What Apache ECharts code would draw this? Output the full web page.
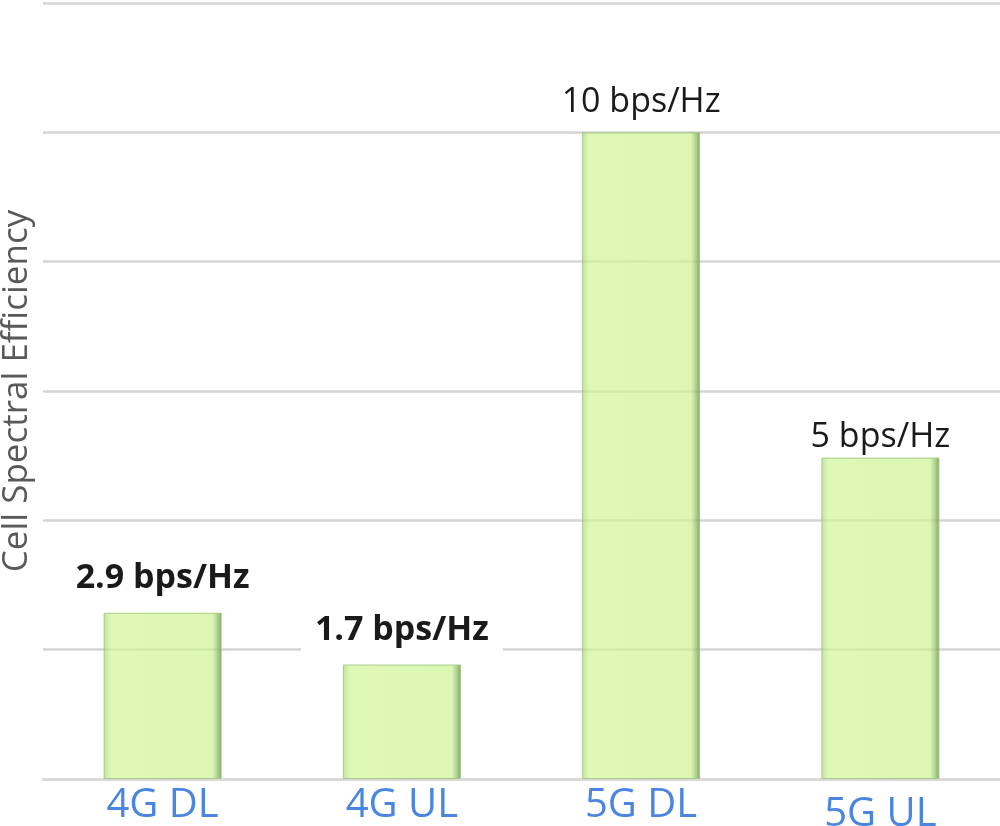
<!DOCTYPE html>
<html>
<head>
<meta charset="utf-8">
<script src="https://cdn.jsdelivr.net/npm/echarts@6/dist/echarts.min.js"></script>
<style>
html,body{margin:0;padding:0;background:#fff;}
#chart{width:1000px;height:826px;}
</style>
</head>
<body>
<div id="chart"></div>
<script>
var categories = ['4G DL', '4G UL', '5G DL', '5G UL'];
var barHeights = [2.57, 1.77, 10, 4.97];
var valueLabels = ['2.9 bps/Hz', '1.7 bps/Hz', '10 bps/Hz', '5 bps/Hz'];
var labelBold = [true, true, false, false];

// label styling (not data)
var labelGap = [17, 5, 13, 3];

var chart = echarts.init(document.getElementById('chart'));

var barColor = new echarts.graphic.LinearGradient(0, 0, 1, 0, [
  {offset: 0, color: 'rgba(170,215,120,0.7)'},
  {offset: 0.06, color: 'rgba(208,245,152,0.7)'},
  {offset: 0.92, color: 'rgba(205,244,148,0.7)'},
  {offset: 0.97, color: 'rgba(150,190,110,0.8)'},
  {offset: 1, color: 'rgba(110,150,80,0.9)'}
]);

var labelData = barHeights.map(function (v, i) {
  var lbl = {
    show: true,
    position: 'top',
    distance: labelGap[i],
    formatter: valueLabels[i],
    fontFamily: 'Open Sans',
    fontSize: 34,
    fontWeight: labelBold[i] ? 'bold' : 'normal',
    color: '#1a1a1a'
  };
  if (i === 1) {
    lbl.backgroundColor = '#ffffff';
    lbl.padding = [2, 14, 12, 14];
  }
  return {value: v, label: lbl};
});

var xData = categories.map(function (c, i) {
  return i === 3 ? {value: c, textStyle: {padding: [9, 0, 0, 0]}} : c;
});

chart.setOption({
  animation: false,
  backgroundColor: '#ffffff',
  grid: {left: 43, right: 0, top: 3, bottom: 47, outerBoundsMode: 'none'},
  xAxis: {
    type: 'category',
    data: xData,
    axisLine: {lineStyle: {color: '#d9d9d9', width: 2.5}},
    axisTick: {show: false},
    axisLabel: {
      color: '#4a86e0',
      fontFamily: 'Open Sans',
      fontSize: 40,
      margin: 7
    }
  },
  yAxis: {
    type: 'value',
    min: 0,
    max: 12,
    interval: 2,
    name: 'Cell Spectral Efficiency',
    nameLocation: 'middle',
    nameGap: 8,
    nameTextStyle: {color: '#595959', fontFamily: 'Open Sans', fontSize: 35},
    axisLine: {show: false},
    axisTick: {show: false},
    axisLabel: {show: false},
    splitLine: {lineStyle: {color: '#d4d4d4', width: 2.5}}
  },
  series: [
    {
      type: 'bar',
      data: barHeights,
      barWidth: 118,
      itemStyle: {color: barColor, borderColor: 'rgba(160,200,130,0.9)', borderWidth: 1}
    },
    {
      type: 'bar',
      data: labelData,
      barWidth: 118,
      barGap: '-100%',
      z: 5,
      itemStyle: {color: 'rgba(0,0,0,0)'},
      silent: true
    }
  ]
});
</script>
</body>
</html>
